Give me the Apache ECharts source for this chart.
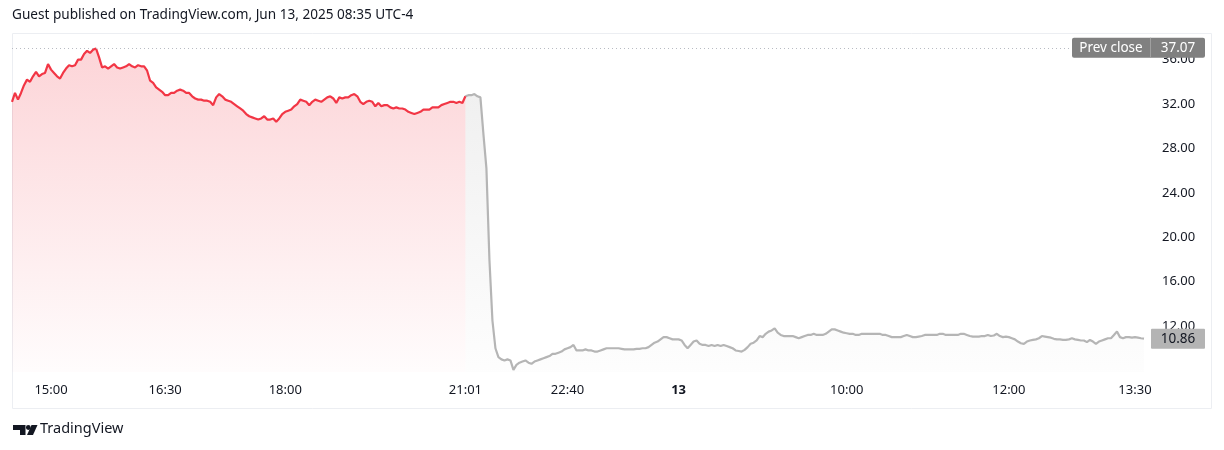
<!DOCTYPE html>
<html><head><meta charset="utf-8">
<script src="https://cdn.jsdelivr.net/npm/echarts@6/dist/echarts.min.js"></script>
<style>html,body{margin:0;padding:0;background:#fff}#c{width:1224px;height:450px}</style>
</head><body><div id="c"></div>
<script>
const titleText = 'Guest published on TradingView.com, Jun 13, 2025 08:35 UTC-4';
const brandText = 'TradingView';
const prevCloseLabel = 'Prev close';
const prevClose = 37.07;

// regular session (red), one value per bar index from 0
const regularValues = [
32.2,33.0,32.4,33.0,33.7,34.2,34.0,34.5,34.9,34.5,
34.7,34.8,35.6,35.1,34.8,34.5,34.3,34.8,35.2,35.5,
35.4,35.5,36.0,36.0,36.5,36.8,36.6,36.9,37.0,36.2,
35.3,35.4,35.2,35.4,35.6,35.3,35.2,35.3,35.4,35.6,
35.4,35.3,35.5,35.4,35.4,35.0,34.1,33.9,33.5,33.3,
33.1,32.8,32.8,33.0,33.0,33.2,33.3,33.2,33.0,33.0,
32.7,32.5,32.4,32.4,32.3,32.3,32.2,31.9,32.6,32.9,
32.7,32.4,32.3,32.2,32.0,31.8,31.6,31.4,31.1,30.9,
30.8,30.7,30.6,30.7,30.9,30.6,30.6,30.7,30.4,30.7,
31.1,31.3,31.4,31.5,31.8,32.0,32.4,32.3,32.2,31.9,
32.2,32.4,32.3,32.2,32.4,32.6,32.7,32.5,32.1,32.6,
32.5,32.6,32.6,32.8,32.9,32.7,32.2,32.0,32.2,32.3,
32.2,31.8,32.1,31.8,31.9,31.9,31.7,31.6,31.7,31.6,
31.6,31.5,31.3,31.2,31.1,31.2,31.3,31.5,31.5,31.5,
31.7,31.7,31.7,31.9,32.0,32.1,32.2,32.2,32.1,32.2,
32.1,32.7
];

// extended hours (gray), continuing from the last regular bar
const extendedValues = [
32.7,32.8,32.8,32.9,32.7,32.6,29.3,26.2,18.0,12.5,
10.0,9.2,9.0,8.9,9.0,8.9,8.05,8.5,8.7,8.8,
8.9,8.7,8.6,8.8,8.9,9.0,9.1,9.2,9.3,9.5,
9.5,9.6,9.7,9.9,10.0,10.1,10.3,9.8,9.8,9.8,
9.9,9.8,9.8,9.7,9.7,9.8,9.9,10.0,10.0,10.0,
10.0,10.0,9.95,9.9,9.9,9.9,9.9,9.95,9.95,10.0,
10.0,10.1,10.3,10.5,10.6,10.8,11.0,11.0,10.9,10.8,
10.8,10.8,10.7,10.3,10.0,10.3,10.6,10.7,10.4,10.3,
10.3,10.2,10.3,10.2,10.3,10.2,10.3,10.2,10.1,10.0,
9.8,9.75,9.7,9.85,10.1,10.4,10.5,10.7,11.1,11.0,
11.3,11.5,11.6,11.8,11.4,11.2,11.1,11.1,11.1,11.1,
11.0,10.9,11.0,11.1,11.2,11.2,11.3,11.2,11.2,11.2,
11.3,11.5,11.7,11.7,11.6,11.5,11.4,11.35,11.3,11.3,
11.2,11.2,11.3,11.3,11.3,11.3,11.3,11.3,11.3,11.2,
11.2,11.1,11.0,11.0,11.0,11.0,11.1,11.2,11.1,11.0,
11.0,11.05,11.1,11.2,11.2,11.2,11.2,11.2,11.3,11.3,
11.2,11.2,11.2,11.2,11.2,11.3,11.3,11.2,11.1,11.05,
11.05,11.05,11.1,11.1,11.2,11.1,11.15,11.3,11.1,11.0,
11.05,11.0,10.9,10.8,10.6,10.45,10.4,10.6,10.7,10.75,
10.8,10.9,11.1,11.05,11.0,10.95,10.85,10.8,10.8,10.75,
10.75,10.8,10.9,10.8,10.75,10.7,10.7,10.55,10.75,10.6,
10.4,10.6,10.7,10.8,10.9,10.9,11.2,11.5,11.0,10.9,
11.0,11.0,10.95,11.0,10.95,10.9,10.86
];

// time-axis labels and the bar index each sits on
const timeTickIndex = [13, 51, 91, 151, 185, 222, 278, 332, 374];
const timeTickLabels = ['15:00','16:30','18:00','21:01','22:40','13','10:00','12:00','13:30'];
const dayChangeLabels = ['13'];
const priceTicks = [12, 16, 20, 24, 28, 32, 36];

const FONT = 'Noto Sans';
const extStart = regularValues.length - 1;
const regularData = regularValues.map((v, i) => [i, v]);
const extendedData = extendedValues.map((v, k) => [extStart + k, v]);
const lastIndex = extStart + extendedValues.length - 1;
const lastValue = extendedValues[extendedValues.length - 1];

const chart = echarts.init(document.getElementById('c'), null, {renderer: 'canvas'});

const option = {
  animation: false,
  backgroundColor: '#ffffff',
  textStyle: {fontFamily: FONT},
  grid: {left: 12, right: 74, top: 33, bottom: 78},
  xAxis: {
    type: 'value', min: 0, max: lastIndex + 2,
    axisLine: {show: false}, axisTick: {show: false}, splitLine: {show: false},
    axisLabel: {
      customValues: timeTickIndex,
      margin: 12, fontSize: 13, color: '#131722', fontFamily: FONT,
      formatter: (v) => {
        const k = timeTickIndex.indexOf(Math.round(v));
        const s = k >= 0 ? timeTickLabels[k] : '';
        return dayChangeLabels.includes(s) ? '{b|' + s + '}' : s;
      },
      rich: {b: {fontWeight: 'bold', fontSize: 13, color: '#131722', fontFamily: FONT}}
    }
  },
  yAxis: {
    type: 'value', position: 'right', min: 7.86, max: 38.4,
    axisLine: {show: false}, axisTick: {show: false}, splitLine: {show: false},
    axisLabel: {
      customValues: priceTicks, margin: 12, fontSize: 13, color: '#131722', fontFamily: FONT,
      formatter: (v) => v.toFixed(2)
    }
  },
  series: [
    {
      type: 'line', data: regularData, showSymbol: false, symbol: 'none',
      lineStyle: {color: '#f23645', width: 2.2}, z: 3,
      areaStyle: {origin: 'start', color: new echarts.graphic.LinearGradient(0, 0, 0, 1, [
        {offset: 0, color: 'rgba(242,54,69,0.30)'},
        {offset: 1, color: 'rgba(242,54,69,0.02)'}
      ])},
      markLine: {
        silent: true, symbol: 'none', label: {show: false},
        lineStyle: {color: '#b8bbc3', type: [1, 3], width: 1},
        data: [{yAxis: prevClose}]
      }
    },
    {
      type: 'line', data: extendedData, showSymbol: false, symbol: 'none',
      lineStyle: {color: '#b5b5b5', width: 2.2}, z: 2,
      areaStyle: {origin: 'start', color: new echarts.graphic.LinearGradient(0, 0, 0, 1, [
        {offset: 0, color: 'rgba(128,128,128,0.17)'},
        {offset: 1, color: 'rgba(128,128,128,0.02)'}
      ])}
    }
  ]
};
chart.setOption(option);

const yPrev = chart.convertToPixel({yAxisIndex: 0}, prevClose);
const yLast = chart.convertToPixel({yAxisIndex: 0}, lastValue);

chart.setOption({
  graphic: [
    {type: 'rect', z: 0, silent: true, shape: {x: 12.5, y: 33.5, width: 1199, height: 375},
     style: {fill: 'none', stroke: '#eceef2', lineWidth: 1}},
    {type: 'text', left: 12, top: 8, z: 10,
     style: {text: titleText, fontSize: 13.6, fontFamily: FONT, fill: '#131722'}},
    // Prev close tag
    {type: 'rect', z: 20, shape: {x: 1072, y: yPrev - 10, width: 133, height: 20, r: 2},
     style: {fill: '#808080'}},
    {type: 'rect', z: 21, shape: {x: 1150, y: yPrev - 10, width: 1, height: 20},
     style: {fill: '#a0a0a0'}},
    {type: 'text', z: 22, x: 1111, y: yPrev,
     style: {text: prevCloseLabel, fontSize: 13.5, fontFamily: FONT, fill: '#ffffff', align: 'center', verticalAlign: 'middle'}},
    {type: 'text', z: 22, x: 1178, y: yPrev,
     style: {text: prevClose.toFixed(2), fontSize: 13.5, fontFamily: FONT, fill: '#ffffff', align: 'center', verticalAlign: 'middle'}},
    // last price tag
    {type: 'rect', z: 20, shape: {x: 1151, y: yLast - 10, width: 54, height: 20, r: 1},
     style: {fill: '#b4b4b4'}},
    {type: 'text', z: 22, x: 1178, y: yLast,
     style: {text: lastValue.toFixed(2), fontSize: 13.5, fontFamily: FONT, fill: '#131722', align: 'center', verticalAlign: 'middle'}},
    // logo
    {type: 'group', z: 10, children: [
      {type: 'polygon', shape: {points: [[13,425],[25.5,425],[25.5,435],[20,435],[20,430],[13,430]]}, style: {fill: '#131722'}},
      {type: 'circle', shape: {cx: 28.3, cy: 427.5, r: 2.4}, style: {fill: '#131722'}},
      {type: 'polygon', shape: {points: [[31.5,425],[37.5,425],[33,435],[27,435]]}, style: {fill: '#131722'}}
    ]},
    {type: 'text', left: 40, top: 421, z: 10,
     style: {text: brandText, fontSize: 14.5, fontFamily: FONT, fill: '#131722'}}
  ]
});
</script>
</body></html>
